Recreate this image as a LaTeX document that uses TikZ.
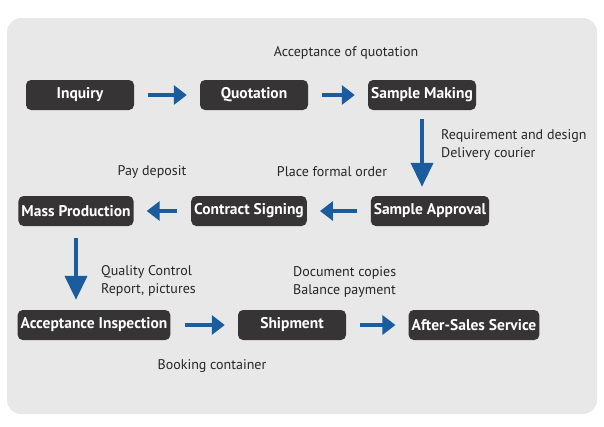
\documentclass[tikz,border=0pt]{standalone}
\usepackage{fontspec}
\setmainfont{PT Sans}
\usetikzlibrary{arrows.meta}
\definecolor{panelgray}{HTML}{E8E8E8}
\definecolor{boxdark}{HTML}{363434}
\definecolor{flowblue}{HTML}{1B5C9E}

\begin{document}
\begin{tikzpicture}[x=1pt, y=-1pt,
  stepbox/.style={fill=boxdark, rounded corners=5pt, text=white,
    font=\fontsize{15.5}{18}\selectfont\bfseries, minimum width=108pt,
    minimum height=30pt, inner xsep=3pt},
  note/.style={font=\fontsize{14}{18}\selectfont, text=black!85,
    align=left, inner sep=0pt},
  flowh/.style={draw=flowblue, line width=4pt,
    -{Triangle[length=13pt, width=19pt]}, shorten <=14pt, shorten >=13pt},
  flowv/.style={draw=flowblue, line width=4pt,
    -{Triangle[length=24pt, width=22pt]}, shorten <=9pt, shorten >=9pt},
]
  \useasboundingbox (0,0) rectangle (604,426);
  % grey panel
  \fill[panelgray, rounded corners=14pt] (7,18) rectangle (597,414);
  % first row
  \node[stepbox] (inq) at (80,95) {Inquiry};
  \node[stepbox] (quo) at (254,95) {Quotation};
  \node[stepbox] (smk) at (422,95) {Sample Making};
  % second row
  \node[stepbox] (sap) at (430,211) {Sample Approval};
  \node[stepbox] (con) at (249,211) {Contract Signing};
  \node[stepbox] (mas) at (76,211) {Mass Production};
  % third row
  \node[stepbox] (acc) at (94,325) {Acceptance Inspection};
  \node[stepbox] (shp) at (292,325) {Shipment};
  \node[stepbox] (aft) at (474,325) {After-Sales Service};
  % arrows
  \draw[flowh] (inq.east) -- (quo.west);
  \draw[flowh] (quo.east) -- (smk.west);
  \draw[flowv] (smk.south) -- (smk.south |- sap.north);
  \draw[flowh] (sap.west) -- (con.east);
  \draw[flowh] (con.west) -- (mas.east);
  \draw[flowv, shorten <=12pt, shorten >=10pt] (mas.south) -- (mas.south |- acc.north);
  \draw[flowh] (acc.east) -- (shp.west);
  \draw[flowh] (shp.east) -- (aft.west);
  % labels
  \node[note] (lacc) at (346,53) {Acceptance of quotation};
  \node[note, anchor=west] (lreq) at (441,145) {Requirement and design\\Delivery courier};
  \node[note] (lpay) at (152,172) {Pay deposit};
  \node[note] (lpla) at (332,172) {Place formal order};
  \node[note, anchor=west] (lqua) at (101,281) {Quality Control\\Report, pictures};
  \node[note, anchor=west] (ldoc) at (293,282) {Document copies\\Balance payment};
  \node[note] (lboo) at (212,366) {Booking container};
\end{tikzpicture}
\end{document}
